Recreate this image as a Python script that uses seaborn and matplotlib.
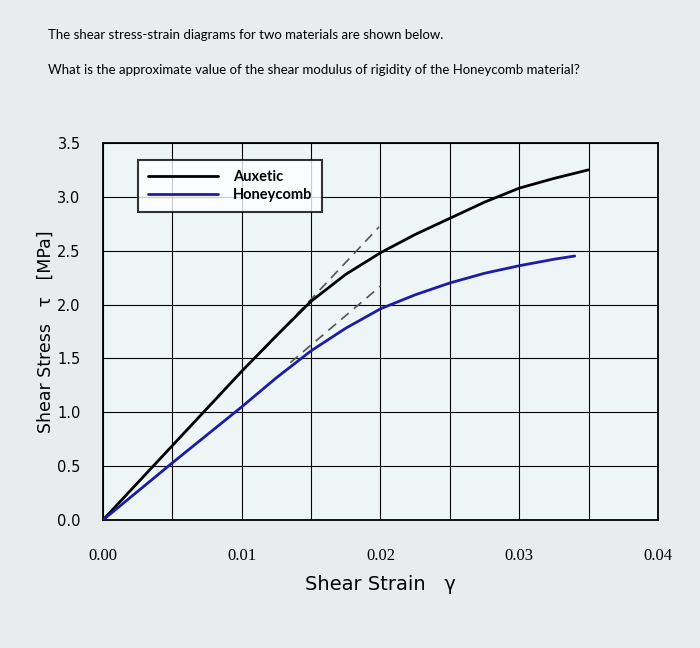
import matplotlib
matplotlib.use("Agg")
import matplotlib.pyplot as plt
import numpy as np
import pandas as pd
import seaborn as sns

# values
strain_aux = [0.0, 0.005, 0.01, 0.0125, 0.015, 0.0175, 0.02, 0.0225, 0.025, 0.0275, 0.03, 0.0325, 0.035]
stress_aux = [0.0, 0.69, 1.38, 1.71, 2.03, 2.28, 2.48, 2.65, 2.80, 2.95, 3.08, 3.17, 3.25]
strain_hc = [0.0, 0.005, 0.01, 0.0125, 0.015, 0.0175, 0.02, 0.0225, 0.025, 0.0275, 0.03, 0.0325, 0.034]
stress_hc = [0.0, 0.53, 1.05, 1.32, 1.57, 1.78, 1.96, 2.09, 2.20, 2.29, 2.36, 2.42, 2.45]

# tangent (dashed) lines: start/end strain and stress
tan_aux_x = [0.0115, 0.0199]
tan_aux_y = [1.57, 2.72]
tan_hc_x = [0.0135, 0.0200]
tan_hc_y = [1.46, 2.17]

xticks = [0.00, 0.01, 0.02, 0.03, 0.04]
yticks = [0.0, 0.5, 1.0, 1.5, 2.0, 2.5, 3.0, 3.5]

question = [
    "The shear stress-strain diagrams for two materials are shown below.",
    "What is the approximate value of the shear modulus of rigidity of the Honeycomb material?",
]

df = pd.concat([
    pd.DataFrame({"strain": strain_aux, "stress": stress_aux, "material": "Auxetic"}),
    pd.DataFrame({"strain": strain_hc, "stress": stress_hc, "material": "Honeycomb"}),
])

sns.set_style("white")
plt.rcParams["text.color"] = "black"
plt.rcParams["axes.labelcolor"] = "black"
plt.rcParams["xtick.color"] = "black"
plt.rcParams["ytick.color"] = "black"

fig = plt.figure(figsize=(7, 6.48), dpi=100, facecolor="#e9ecef")
ax = fig.add_axes([0.147, 0.1975, 0.793, 0.582])
ax.set_facecolor("#eef5f7")

# dashed tangents under the curves
ax.plot(tan_aux_x, tan_aux_y, color="#555555", lw=1.2, ls=(0, (6, 4)), zorder=2)
ax.plot(tan_hc_x, tan_hc_y, color="#555555", lw=1.2, ls=(0, (6, 4)), zorder=2)

sns.lineplot(data=df, x="strain", y="stress", hue="material",
             palette={"Auxetic": "black", "Honeycomb": "#1c1ca8"},
             lw=2, ax=ax, zorder=3, sort=False)

ax.set_xlim(0, 0.04)
ax.set_ylim(0, 3.5)
ax.set_xticks(xticks)
ax.set_xticklabels([f"{v:.2f}" for v in xticks], family="Liberation Serif", fontsize=12)
ax.set_xticks(np.arange(0.005, 0.04, 0.01), minor=True)
ax.set_yticks(yticks)
ax.set_yticklabels([f"{v:.1f}" for v in yticks], family="DejaVu Sans", fontsize=10.5)
ax.tick_params(axis="x", which="major", direction="out", length=6, width=1, pad=14)
ax.tick_params(axis="x", which="minor", length=0)
ax.tick_params(axis="y", direction="out", length=6, width=1, pad=10)
ax.grid(True, which="both", color="black", lw=0.8)
for s in ax.spines.values():
    s.set_color("black")
    s.set_linewidth(1.3)

ax.set_xlabel("Shear Strain   \u03b3", fontsize=14, family="DejaVu Sans", labelpad=8)
ax.set_ylabel("Shear Stress   \u03c4   [MPa]", fontsize=12.5, family="DejaVu Sans", labelpad=2)

leg = ax.legend(loc="upper left", bbox_to_anchor=(0.05, 0.975), handlelength=4.8,
                frameon=True, fancybox=False, edgecolor="black", fontsize=10.5,
                borderpad=0.7, labelspacing=0.3, handletextpad=1.0)
leg.get_frame().set_linewidth(1.5)
leg.get_frame().set_facecolor("white")
for t in leg.get_texts():
    t.set_fontfamily("Lato")
    t.set_fontweight("bold")

fig.text(48 / 700, 1 - 35 / 648, question[0], fontsize=9.5, family="Lato", va="center")
fig.text(48 / 700, 1 - 70 / 648, question[1], fontsize=9.5, family="Lato", va="center")

fig.savefig("out.png", dpi=100, facecolor=fig.get_facecolor())
